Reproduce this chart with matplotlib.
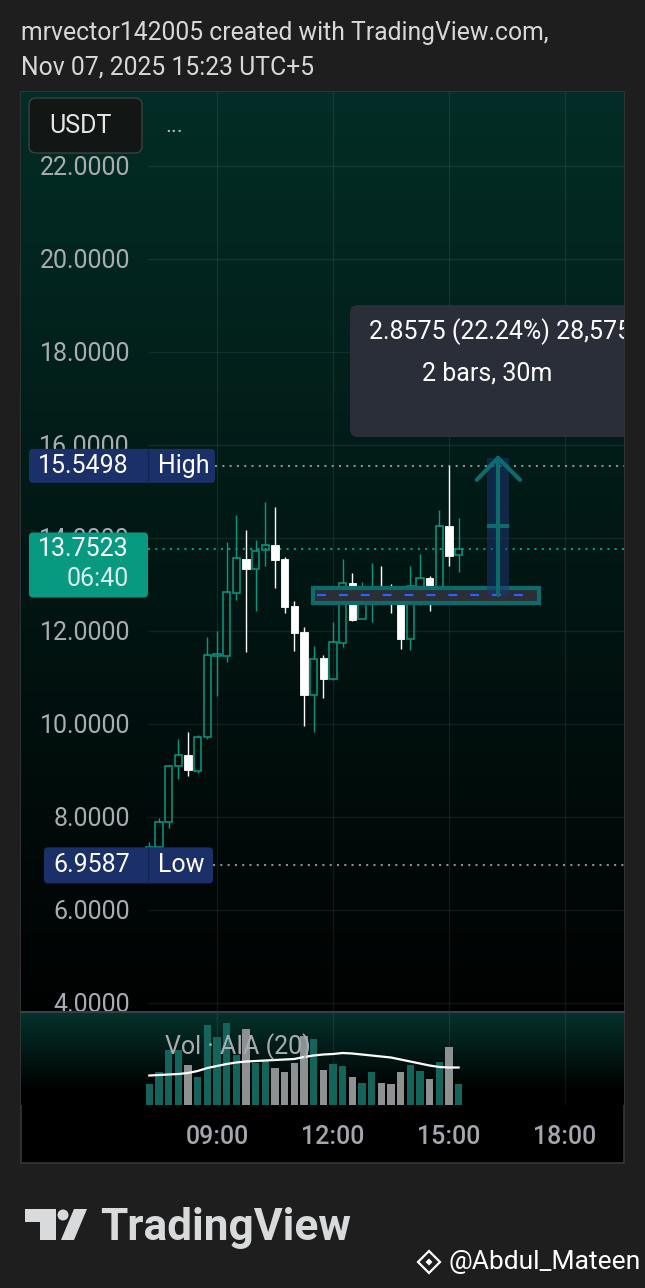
import numpy as np
import pandas as pd
import matplotlib
matplotlib.use("Agg")
import matplotlib.pyplot as plt
import matplotlib.transforms as mtransforms
from matplotlib.patches import Rectangle, FancyBboxPatch, Polygon, Circle

plt.rcParams['font.family'] = ['Roboto', 'DejaVu Sans']

# 15 minute bars, Nov 07 2025
bar_times = pd.date_range("2025-11-07 07:15", periods=33, freq="15min")
opens = [7.00, 7.35, 7.89, 9.10, 9.33, 8.99, 9.72, 11.47, 11.46, 12.82, 13.55,
         13.33, 13.74, 13.85, 13.55, 12.54, 11.98, 10.62, 11.42, 10.97, 11.74,
         13.03, 12.26, 12.65, 12.92, 12.80, 12.65, 11.83, 12.95, 13.14, 12.73,
         14.26, 13.63]
highs = [7.46, 7.98, 9.12, 9.68, 9.83, 9.76, 11.87, 12.00, 13.91, 14.49, 14.17,
         13.96, 14.77, 14.67, 13.59, 12.65, 12.09, 11.68, 11.48, 12.19, 13.55,
         13.25, 13.05, 13.46, 13.40, 13.00, 12.71, 13.40, 13.66, 13.18, 14.60,
         15.5498, 14.43]
lows = [6.9587, 7.30, 7.76, 8.82, 8.88, 8.95, 9.68, 10.60, 11.33, 12.67, 11.55,
        12.43, 13.40, 12.92, 12.39, 11.57, 9.96, 9.83, 10.56, 10.95, 11.66,
        12.22, 12.26, 12.19, 12.62, 12.39, 11.61, 11.59, 12.56, 12.43, 12.73,
        13.40, 13.27]
closes = [7.35, 7.89, 9.10, 9.33, 9.01, 9.72, 11.48, 11.51, 12.84, 13.57, 13.33,
          13.72, 13.85, 13.53, 12.52, 11.96, 10.62, 11.40, 10.97, 11.76, 13.03,
          12.24, 12.67, 12.92, 12.77, 12.62, 11.83, 12.97, 13.14, 12.73, 14.26,
          13.61, 13.7523]
volumes = [21, 33, 55, 55, 40, 28, 80, 68, 82, 50, 76, 42, 45, 37, 33, 42, 69,
           66, 35, 41, 39, 28, 22, 33, 22, 21, 33, 40, 34, 26, 43, 58, 21]
vol_ma = [29.5, 30, 30.5, 31, 32, 34, 37, 39, 41, 42.5, 43.5, 44, 44.5, 45, 45.5,
          46, 48, 49.5, 50.5, 51, 52, 51.5, 50.5, 49.5, 48.5, 47.5, 45.5, 43.5,
          41.5, 39.5, 38, 37.5, 37.5]

last_price = 13.7523
day_high = 15.5498
day_low = 6.9587
countdown = "06:40"
price_ticks = [4, 6, 8, 10, 12, 14, 16, 18, 20, 22]
time_ticks = [9, 12, 15, 18]
time_labels = ["09:00", "12:00", "15:00", "18:00"]

# measure drawing (time in hours, price)
range_t0, range_t1 = 11.48, 17.33
range_lo, range_hi, range_mid = 12.60, 12.92, 12.77
arrow_t, arrow_top = 16.27, 15.72
measure_text = "2.8575 (22.24%) 28,575"
measure_bars = "2 bars, 30m"

UP = '#089981'
TEAL_DRAW = '#0e6b6b'
GRID_A = 0.07
LABEL = '#a9acb3'

W, H = 645, 1288
fig = plt.figure(figsize=(W / 100, H / 100), dpi=100, facecolor='#1e1e1e')
# pixel coords, origin top-left
T = mtransforms.Affine2D().scale(1 / W, -1 / H).translate(0, 1) + fig.transFigure


def frac(x0, y0, x1, y1):
    return [x0 / W, 1 - y1 / H, (x1 - x0) / W, (y1 - y0) / H]


fig.add_artist(Rectangle((21, 92), 603, 1071, transform=T, facecolor='black',
                         edgecolor='#35373d', lw=1.2, zorder=0))

hours = bar_times.hour + bar_times.minute / 60
xlim = (3.93, 19.53)

# ---- price pane
ax = fig.add_axes(frac(21, 92, 624, 1012))
ax.set_facecolor('none')
grad = np.linspace(0, 1, 256)[:, None]
cols = np.zeros((256, 1, 3))
top_c = np.array([3, 45, 38]) / 255
bot_c = np.array([0, 2, 2]) / 255
cols[:, 0, :] = top_c * (1 - grad) + bot_c * grad
ylim = (3.806, 23.59)
ax.imshow(cols, extent=[xlim[0], xlim[1], ylim[0], ylim[1]], aspect='auto', zorder=0)
ax.set_xlim(*xlim)
ax.set_ylim(*ylim)
for s in ax.spines.values():
    s.set_visible(False)
ax.set_yticks(price_ticks)
ax.set_yticklabels([f"{p:.4f}" for p in price_ticks])
ax.tick_params(axis='y', length=0, pad=-78.5, labelsize=18, labelcolor=LABEL)
ax.set_xticks(time_ticks)
ax.tick_params(axis='x', length=0, labelbottom=False)
ax.grid(axis='x', color='white', alpha=GRID_A, lw=1)


def data_x(px):
    return ax.transData.inverted().transform((px, 0))[0]


def img_y(price):
    return H - ax.transData.transform((0, price))[1]


ax.hlines(price_ticks, data_x(148), xlim[1], colors='white', alpha=GRID_A, lw=1, zorder=1)

body_w = 0.19
for t, o, h, l, c in zip(hours, opens, highs, lows, closes):
    top, bot = max(o, c), min(o, c)
    if c >= o:
        ax.vlines(t, top, h, color=UP, lw=1.0, zorder=3)
        ax.vlines(t, l, bot, color=UP, lw=1.0, zorder=3)
        ax.add_patch(Rectangle((t - body_w / 2, bot), body_w, max(top - bot, 0.04),
                               facecolor='none', edgecolor=UP, lw=1.1, zorder=3))
    else:
        ax.vlines(t, l, h, color='white', lw=1.0, zorder=3)
        ax.add_patch(Rectangle((t - body_w / 2, bot), body_w, top - bot,
                               facecolor='white', edgecolor='white', lw=0.6, zorder=3))

# high / low / last lines
ax.hlines(day_high, data_x(215), xlim[1], colors='#8a8d93', lw=1.5,
          linestyles=(0, (1, 2.5)), zorder=2)
ax.hlines(day_low, data_x(213), xlim[1], colors='#8a8d93', lw=1.5,
          linestyles=(0, (1, 2.5)), zorder=2)
ax.hlines(last_price, data_x(148), xlim[1], colors=UP, lw=1.5,
          linestyles=(0, (1, 2.5)), zorder=2)

# measure drawing
ax.add_patch(Rectangle((range_t0, range_lo), range_t1 - range_t0, range_hi - range_lo,
                       facecolor='#2a2e35', edgecolor=TEAL_DRAW, lw=3, zorder=4))
ax.hlines(range_mid, range_t0 + 0.1, range_t1 - 0.1, colors='#2962ff', lw=1.5,
          linestyles=(0, (4.3, 6.2)), zorder=5)
band_w = 0.57
ax.add_patch(Rectangle((arrow_t - band_w / 2, range_mid), band_w, arrow_top - range_mid,
                       facecolor='#1d3470', alpha=0.55, lw=0, zorder=4))
ax.plot([arrow_t, arrow_t], [range_mid, arrow_top], color=TEAL_DRAW, lw=3, zorder=5,
        solid_capstyle='round')
ax.plot([arrow_t - 0.55, arrow_t, arrow_t + 0.57], [arrow_top - 0.47, arrow_top, arrow_top - 0.47],
        color=TEAL_DRAW, lw=3, zorder=5, solid_capstyle='round', solid_joinstyle='round')
ax.hlines(range_mid + (arrow_top - range_mid) * 0.507, arrow_t - band_w / 2, arrow_t + band_w / 2,
          colors=TEAL_DRAW, lw=3, zorder=5)

# measure info box
ax.add_patch(FancyBboxPatch((350, 305), 300, 132, boxstyle="round,pad=0,rounding_size=8",
                            transform=T, facecolor='#2a2e39', edgecolor='none', zorder=6))
ax.text(369, 332, measure_text, transform=T, fontsize=18, color='white', va='center',
        ha='left', zorder=7, clip_on=True)
ax.text(487, 373, measure_bars, transform=T, fontsize=18, color='white', va='center',
        ha='center', zorder=7)


def box(x0, x1, y0, y1, color, target):
    target.add_artist(FancyBboxPatch((x0, y0), x1 - x0, y1 - y0,
                                     boxstyle="round,pad=0,rounding_size=4",
                                     transform=T, facecolor=color, edgecolor='none', zorder=8))


# High label
yh = img_y(day_high)
box(29, 215, yh - 17, yh + 17, '#1b2f69', fig)
fig.add_artist(plt.Line2D([148, 148], [yh - 17, yh + 17], transform=T, color='#142352', lw=1, zorder=9))
fig.text(129, yh, f"{day_high:.4f}", transform=T, fontsize=18, color='white', ha='right',
         va='center', zorder=10)
fig.text(158, yh, "High", transform=T, fontsize=18, color='white', ha='left', va='center', zorder=10)

# Low label
yl = img_y(day_low)
box(44, 213, yl - 18, yl + 18, '#1b2f69', fig)
fig.add_artist(plt.Line2D([148, 148], [yl - 18, yl + 18], transform=T, color='#142352', lw=1, zorder=9))
fig.text(130, yl, f"{day_low:.4f}", transform=T, fontsize=18, color='white', ha='right',
         va='center', zorder=10)
fig.text(158, yl, "Low", transform=T, fontsize=18, color='white', ha='left', va='center', zorder=10)

# last price label
yc = img_y(last_price)
box(29, 148, yc - 17, yc + 48, UP, fig)
fig.text(129, yc, f"{last_price:.4f}", transform=T, fontsize=18, color='white', ha='right',
         va='center', zorder=10)
fig.text(129, yc + 30, countdown, transform=T, fontsize=18, color='#d9efe9', ha='right',
         va='center', zorder=10)

# USDT button
fig.add_artist(FancyBboxPatch((29, 98), 113, 55, boxstyle="round,pad=0,rounding_size=7",
                              transform=T, facecolor='#121615', edgecolor='#3c4040',
                              lw=1, zorder=8))
fig.text(80, 126, "USDT", transform=T, fontsize=18, color='#e6e6e6', ha='center',
         va='center', zorder=10)
fig.text(174, 126, "...", transform=T, fontsize=16, color='#b8bbc0', ha='center',
         va='center', zorder=10)

# ---- volume pane
axv = fig.add_axes(frac(21, 1013, 624, 1105))
axv.set_facecolor('none')
vcols = np.zeros((256, 1, 3))
vt = np.clip(grad / 0.85, 0, 1)
vcols[:, 0, :] = np.array([4, 50, 42]) / 255 * (1 - vt)
axv.imshow(vcols, extent=[xlim[0], xlim[1], 0, 92], aspect='auto', zorder=0)
axv.set_xlim(*xlim)
axv.set_ylim(0, 92)
for s in axv.spines.values():
    s.set_visible(False)
vol_colors = ['#15645b' if c >= o else '#8e9191' for o, c in zip(opens, closes)]
axv.bar(hours, volumes, width=0.19, color=vol_colors, zorder=2)
axv.plot(hours, vol_ma, color='white', lw=1.6, zorder=3)
axv.set_yticks([])
axv.set_xticks(time_ticks)
axv.set_xticklabels(time_labels)
axv.tick_params(axis='x', length=0, pad=14.5, labelsize=18, labelcolor='#a4a7ae')
for lab in axv.get_xticklabels():
    lab.set_fontweight('medium')
axv.grid(axis='x', color='white', alpha=GRID_A, lw=1)
axv.text(165, 1047, "Vol · AIA (20)", transform=T, fontsize=18, color='#a8abb0',
         va='center', ha='left', zorder=5)

fig.add_artist(plt.Line2D([21, 624], [1012.5, 1012.5], transform=T, color='#3b3e46', lw=1.5, zorder=3))

# ---- header
fig.text(21, 33, "mrvector142005 created with TradingView.com,", transform=T, fontsize=17.8,
         color='#d8d8d8', va='center', ha='left')
fig.text(21, 68, "Nov 07, 2025 15:23 UTC+5", transform=T, fontsize=17.8,
         color='#d8d8d8', va='center', ha='left')

# ---- footer logo
LOGO = '#d8dadc'
fig.add_artist(Polygon([(25, 1209), (56, 1209), (56, 1240), (40, 1240), (40, 1222), (25, 1222)],
                       closed=True, transform=T, facecolor=LOGO, edgecolor='none'))
fig.add_artist(Circle((63, 1215), 5.5, transform=T, facecolor=LOGO, edgecolor='none'))
fig.add_artist(Polygon([(74, 1209), (87, 1209), (74, 1240), (61, 1240)],
                       closed=True, transform=T, facecolor=LOGO, edgecolor='none'))
fig.text(100, 1240, "TradingView", transform=T, fontsize=31.9, fontweight='bold', color=LOGO,
         va='baseline', ha='left')

# watermark
cx, cy = 429, 1262
fig.add_artist(Polygon([(cx - 11, cy), (cx, cy - 11), (cx + 11, cy), (cx, cy + 11)], closed=True,
                       transform=T, facecolor='none', edgecolor='white', lw=1.6))
fig.add_artist(Polygon([(cx - 3.5, cy), (cx, cy - 3.5), (cx + 3.5, cy), (cx, cy + 3.5)], closed=True,
                       transform=T, facecolor='white', edgecolor='none'))
fig.text(448, 1262, "@Abdul_Mateen", transform=T, fontsize=19, color='white',
         va='center', ha='left')

fig.savefig("out.png", dpi=100, facecolor=fig.get_facecolor())
